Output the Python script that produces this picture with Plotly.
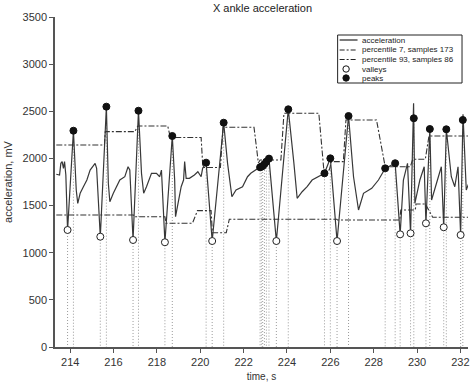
import plotly.graph_objects as go

# ---------------- data ----------------
time_s = [213.36, 213.51, 213.57, 213.63, 213.69, 213.74, 213.80, 213.85, 213.88, 214.15,
          214.28, 214.35, 214.46, 214.61, 214.77, 214.92, 215.07, 215.15, 215.22, 215.39,
          215.67, 215.76, 215.83, 215.99, 216.29, 216.52, 216.67, 216.75, 216.90, 217.15,
          217.29, 217.39, 217.52, 217.75, 217.98, 218.13, 218.21, 218.37, 218.71, 218.82,
          218.86, 218.97, 219.12, 219.23, 219.28, 219.35, 219.50, 219.73, 219.89, 220.04,
          220.11, 220.27, 220.55, 221.08, 221.26, 221.46, 221.65, 221.95, 222.18, 222.33,
          222.56, 222.76, 222.82, 222.88, 222.96, 223.05, 223.17, 223.51, 224.06, 224.32,
          224.47, 224.70, 224.93, 225.16, 225.47, 225.73, 226.00, 226.31, 226.84, 227.07,
          227.30, 227.53, 227.91, 228.22, 228.53, 228.99, 229.22, 229.37, 229.56, 229.70,
          229.84, 229.90, 230.13, 230.33, 230.41, 230.59, 230.67, 230.97, 231.12, 231.23,
          231.35, 231.58, 231.74, 231.89, 232.01, 232.12, 232.27, 232.50]
accel_mv = [1832, 1824, 1948, 1966, 1895, 1966, 1824, 1488, 1241, 2294,
            1665, 1524, 1630, 1700, 1771, 1877, 1930, 1948, 1895, 1170,
            2549, 1736, 1541, 1630, 1771, 1806, 1912, 1877, 1135, 2506,
            1842, 1630, 1700, 1842, 1842, 1806, 1877, 1111, 2238, 1771,
            1382, 1524, 1700, 1771, 1966, 1789, 1789, 1824, 1859, 1806,
            1895, 1955, 1124, 2379, 1948, 1594, 1665, 1700, 1806, 1842,
            1877, 1906, 1912, 1920, 1940, 1966, 1998, 1124, 2521, 1948,
            1577, 1647, 1700, 1771, 1806, 1842, 2001, 1124, 2450, 1806,
            1453, 1630, 1683, 1771, 1895, 1949, 1195, 1771, 1948, 1206,
            2585, 1524, 1771, 1912, 1312, 2312, 1559, 1806, 1912, 1270,
            2309, 1806, 1700, 1912, 1188, 2468, 1665, 1806]

p7_t = [213.36, 216.92, 216.95, 218.37, 218.42, 219.64, 219.87, 220.50, 220.56, 221.20,
        221.34, 226.30, 226.33, 229.20, 229.25, 229.92, 229.95, 230.38, 230.72, 232.50]
p7_v = [1400, 1400, 1382, 1382, 1312, 1312, 1446, 1446, 1212, 1212,
        1355, 1355, 1347, 1347, 1453, 1453, 1517, 1517, 1376, 1376]

p93_t = [213.36, 215.58, 215.62, 216.98, 217.12, 218.50, 218.62, 220.04, 220.12, 220.93,
         221.05, 222.48, 222.68, 222.76, 223.72, 223.86, 225.47, 225.70, 225.95, 226.05,
         226.60, 226.72, 228.13, 228.53, 229.69, 229.80, 230.38, 230.55, 232.50]
p93_v = [2143, 2143, 2284, 2284, 2344, 2344, 2222, 2222, 1904, 1904,
         2330, 2330, 1952, 1984, 1984, 2479, 2479, 1877, 1877, 1966,
         1966, 2408, 2408, 1912, 1912, 1991, 1991, 2238, 2238]

peak_t = [214.15, 215.67, 217.15, 218.71, 220.27, 221.08, 222.76, 222.82, 222.88, 222.96,
          223.05, 223.17, 224.06, 225.73, 226.00, 226.84, 228.53, 228.99, 229.85, 230.59,
          231.35, 232.11]
peak_v = [2294, 2549, 2506, 2238, 1955, 2379, 1906, 1912, 1920, 1940,
          1966, 1998, 2521, 1842, 2001, 2450, 1895, 1949, 2426, 2312,
          2309, 2408]

valley_t = [213.88, 215.39, 216.90, 218.37, 220.55, 223.51, 226.31, 229.22, 229.70, 230.41,
            231.23, 232.01]
valley_v = [1241, 1170, 1135, 1111, 1124, 1124, 1124, 1195, 1206, 1312, 1270, 1188]

x_ticks = [214, 216, 218, 220, 222, 224, 226, 228, 230, 232]
y_ticks = [0, 500, 1000, 1500, 2000, 2500, 3000, 3500]

title_text = "X ankle acceleration"
x_title = "time, s"
y_title = "acceleration, mV"
legend_labels = ["acceleration", "percentile 7, samples 173",
                 "percentile 93, samples 86", "valleys", "peaks"]

# ---------------- figure ----------------
FONT = "Liberation Sans, Arial, sans-serif"
DASHDOT = "6px,2px,2px,2px"
fig = go.Figure()

vx, vy = [], []
for t, v in zip(peak_t + valley_t, peak_v + valley_v):
    vx += [t, t, None]
    vy += [v, 0, None]
fig.add_trace(go.Scatter(x=vx, y=vy, mode="lines", showlegend=False, hoverinfo="skip",
                         line=dict(color="#9a9a9a", width=1, dash="1px,2px")))

fig.add_trace(go.Scatter(x=time_s, y=accel_mv, mode="lines", name=legend_labels[0],
                         line=dict(color="#383838", width=1.2)))
fig.add_trace(go.Scatter(x=p7_t, y=p7_v, mode="lines", name=legend_labels[1],
                         line=dict(color="#333333", width=1.1, dash=DASHDOT)))
fig.add_trace(go.Scatter(x=p93_t, y=p93_v, mode="lines", name=legend_labels[2],
                         line=dict(color="#333333", width=1.1, dash=DASHDOT)))
fig.add_trace(go.Scatter(x=valley_t, y=valley_v, mode="markers", name=legend_labels[3],
                         marker=dict(symbol="circle", size=7, color="white",
                                     line=dict(color="#222222", width=1))))
fig.add_trace(go.Scatter(x=peak_t, y=peak_v, mode="markers", name=legend_labels[4],
                         marker=dict(symbol="circle", size=7, color="#111111",
                                     line=dict(color="#111111", width=1))))

# ---------------- manual compact legend ----------------
L, R, T, B = 55, 470, 17, 347
def px(x):
    return (x - L) / (R - L)
def py(y):
    return (B - y) / (B - T)

shapes = [dict(type="rect", xref="paper", yref="paper", x0=px(339), x1=px(464),
               y0=py(83), y1=py(35), line=dict(color="#222222", width=1),
               fillcolor="white", layer="above")]
rows = [40, 50, 59.5, 69, 78]
annotations = []
for i, (lab, ry) in enumerate(zip(legend_labels, rows)):
    if i == 0:
        shapes.append(dict(type="line", xref="paper", yref="paper", x0=px(341), x1=px(359),
                           y0=py(ry), y1=py(ry), line=dict(color="#222222", width=1.2),
                           layer="above"))
    elif i in (1, 2):
        shapes.append(dict(type="line", xref="paper", yref="paper", x0=px(341), x1=px(359),
                           y0=py(ry), y1=py(ry), line=dict(color="#222222", width=1.2,
                                                           dash="5px,2px,2px,2px"),
                           layer="above"))
    else:
        shapes.append(dict(type="circle", xref="paper", yref="paper",
                           xsizemode="pixel", ysizemode="pixel",
                           xanchor=px(347.5), yanchor=py(ry),
                           x0=-3.2, x1=3.2, y0=-3.2, y1=3.2,
                           fillcolor="white" if i == 3 else "#111111",
                           line=dict(color="#111111", width=1), layer="above"))
    annotations.append(dict(xref="paper", yref="paper", x=px(361), y=py(ry),
                            xanchor="left", yanchor="middle", text=lab, showarrow=False,
                            font=dict(family=FONT, size=8, color="#222222")))

fig.update_layout(
    width=474, height=386,
    margin=dict(l=L, r=474 - R, t=T, b=386 - B),
    paper_bgcolor="white", plot_bgcolor="white",
    showlegend=False,
    font=dict(family=FONT, size=11, color="#333333"),
    title=dict(text=title_text, x=(L + R) / 2 / 474, xanchor="center",
               y=1 - 8 / 386, yanchor="middle",
               font=dict(family=FONT, size=11, color="#222222")),
    shapes=shapes, annotations=annotations,
)
fig.update_xaxes(range=[213.3, 232.35], tickvals=x_ticks, ticktext=[str(v) for v in x_ticks],
                 showgrid=False, zeroline=False, showline=True, linecolor="#555555",
                 linewidth=1.5, ticks="outside", ticklen=4, tickcolor="#555555",
                 ticklabeloverflow="allow",
                 tickfont=dict(family=FONT, size=11, color="#333333"),
                 title=dict(text=x_title, standoff=6,
                            font=dict(family=FONT, size=10, color="#333333")))
fig.update_yaxes(range=[0, 3500], tickvals=y_ticks, ticktext=[str(v) for v in y_ticks],
                 showgrid=False, zeroline=False, showline=True, linecolor="#555555",
                 linewidth=1.5, ticks="outside", ticklen=4, tickcolor="#555555",
                 tickfont=dict(family=FONT, size=11, color="#333333"),
                 title=dict(text=y_title, standoff=8,
                            font=dict(family=FONT, size=11, color="#333333")))

fig.write_html("out.html", config={"displayModeBar": False},
               post_script="document.body.style.margin='0';document.body.style.overflow='hidden';")
